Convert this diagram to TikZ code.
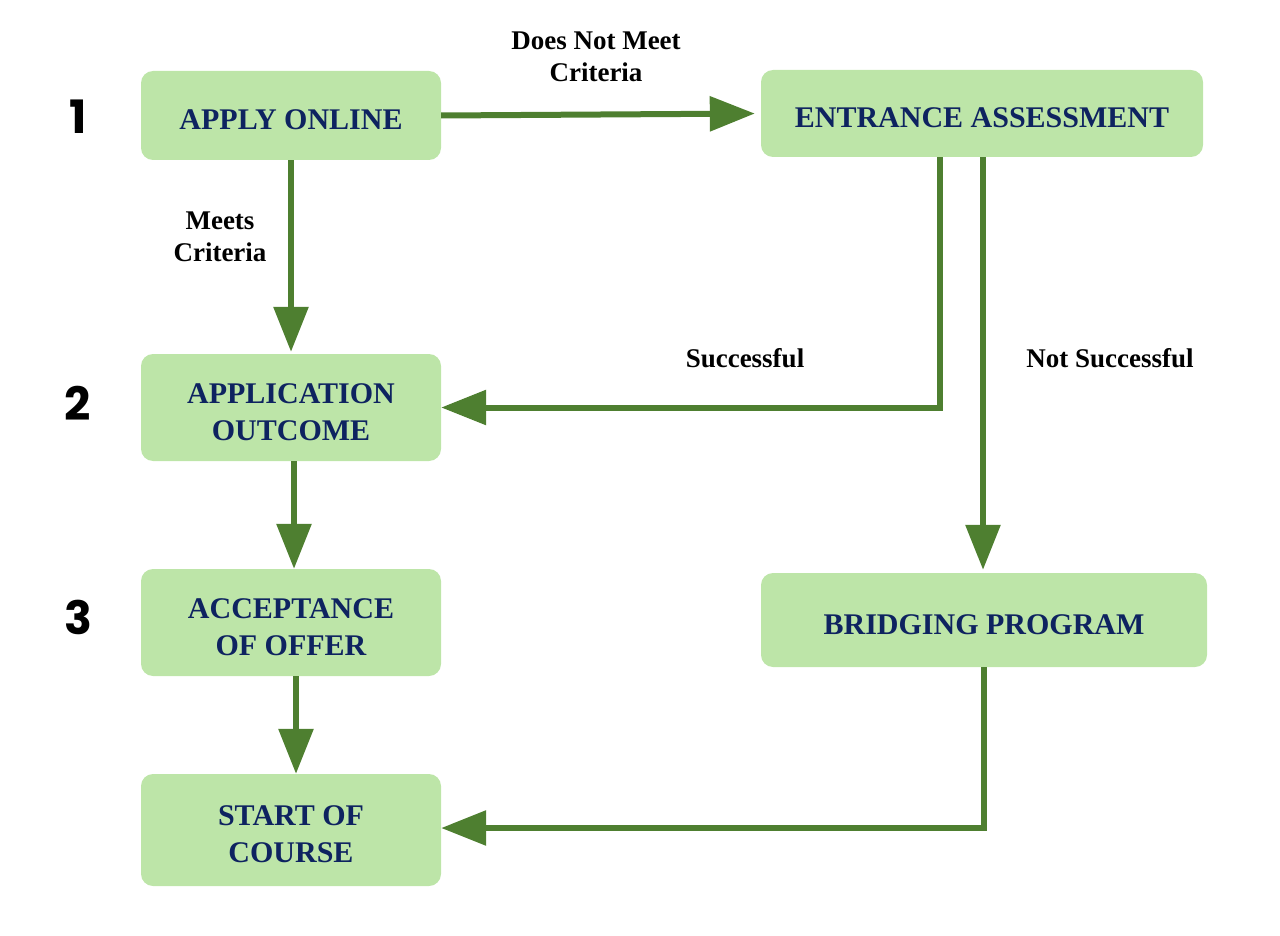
\documentclass[tikz,border=0pt]{standalone}
\usepackage{fontspec}
\setmainfont{Liberation Serif}
\newfontfamily\numfont{Poppins}[BoldFont={* Bold}]
\usetikzlibrary{arrows.meta}
\definecolor{boxfill}{HTML}{BDE5A8}
\definecolor{boxtext}{HTML}{0E2360}
\definecolor{arrowgreen}{HTML}{4E7F30}
\newcommand{\dn}{\rule{0pt}{29pt}}
\tikzset{
  stepbox/.style={rectangle, rounded corners=12pt, fill=boxfill, draw=none,
    text=boxtext, align=center, font=\fontsize{30}{37}\selectfont\bfseries,
    minimum width=300pt, inner sep=0pt},
  flow/.style={draw=arrowgreen, line width=6pt,
    -{Triangle[length=45pt,width=34pt]}},
  lbl/.style={align=center, text=black, font=\fontsize{27}{32}\selectfont\bfseries},
  num/.style={text=black, font=\fontsize{46}{46}\selectfont\numfont\bfseries}
}
\begin{document}
\begin{tikzpicture}[x=1pt,y=-1pt]
\useasboundingbox (0,0) rectangle (1280,936);
\node[stepbox, minimum height=89pt] (apply) at (291,115.5) {\dn APPLY ONLINE};
\node[stepbox, minimum width=442pt, minimum height=87pt] (entr) at (982,113.5) {\dn ENTRANCE ASSESSMENT};
\node[stepbox, minimum height=107pt] (outc) at (291,407.5) {\dn APPLICATION\\OUTCOME};
\node[stepbox, minimum height=107pt] (acc) at (291,622.5) {\dn ACCEPTANCE\\OF OFFER};
\node[stepbox, minimum width=446pt, minimum height=94pt] (bridge) at (984,620) {\dn BRIDGING PROGRAM};
\node[stepbox, minimum height=112pt] (start) at (291,830) {\dn START OF\\COURSE};

\node[num] (n1) at (78,117) {1};
\node[num] (n2) at (78,403) {2};
\node[num] (n3) at (78,617) {3};

\node[lbl] (l1) at (596,57) {Does Not Meet\\Criteria};
\node[lbl] (l2) at (220,237) {Meets\\Criteria};
\node[lbl] (l3) at (745,358) {Successful};
\node[lbl] (l4) at (1110,358) {Not Successful};

\draw[flow, shorten >=6pt] (apply.east) -- (entr.west);
\draw[flow, shorten >=2pt] (apply.south) -- (outc.north);
\draw[flow] ([xshift=3pt]outc.south) -- ([xshift=3pt]acc.north);
\draw[flow] ([xshift=5pt]acc.south) -- ([xshift=5pt]start.north);
\draw[flow] ([xshift=-42pt]entr.south) |- (outc.east);
\draw[flow, shorten >=3pt] ([xshift=1pt]entr.south) -- ([xshift=-1pt]bridge.north);
\draw[flow] (bridge.south) |- ([yshift=2pt]start.east);
\end{tikzpicture}
\end{document}
